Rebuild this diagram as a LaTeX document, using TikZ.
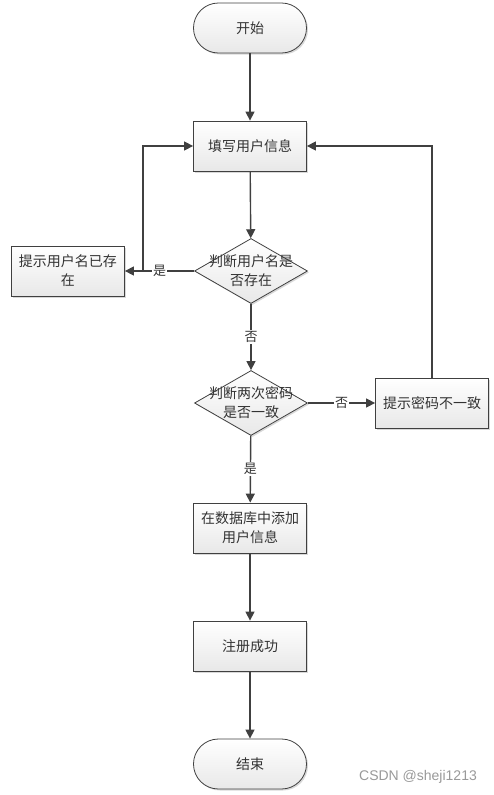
\documentclass[tikz,border=0pt]{standalone}
\usepackage{fontspec}
\newfontfamily\cjk{Noto Sans CJK SC}
\newfontfamily\wmark{Liberation Sans}
\usetikzlibrary{shapes.geometric,arrows.meta,shadows}

\definecolor{linegray}{HTML}{404040}
\definecolor{boxfill}{HTML}{E8E8E8}
\definecolor{txtgray}{HTML}{333333}

\tikzset{
  base/.style={draw=linegray, line width=0.8pt, top color=white, bottom color=boxfill,
    drop shadow={shadow xshift=1.5pt, shadow yshift=-1.5pt, fill=black!30, opacity=0.5},
    font=\cjk\fontsize{14}{19}\selectfont, text=txtgray, align=center},
  process/.style={base, rectangle, minimum width=113pt, minimum height=50pt, inner sep=2pt},
  terminal/.style={base, rectangle, rounded corners=24.9pt, minimum width=113pt, minimum height=50pt},
  decision/.style={base, diamond, minimum width=113pt, minimum height=65pt, inner sep=0pt},
  dtext/.style={font=\cjk\fontsize{14}{19}\selectfont, text=txtgray, align=center},
  flow/.style={draw=linegray, line width=1.4pt, -{Triangle[length=9pt,width=9pt]}},
  branch/.style={fill=white, inner sep=1pt, font=\cjk\fontsize{13}{15}\selectfont, text=txtgray},
  wm/.style={font=\wmark\fontsize{14}{16}\selectfont, text=black!40}
}

\begin{document}
\begin{tikzpicture}[x=1pt, y=-1pt]
\useasboundingbox (0,0) rectangle (494,795);

% main column
\node[terminal] (start) at (250,28) {开始};
\node[process] (fillinfo) at (250,146) {填写用户信息};
\node[decision, label={[dtext]center:判断用户名是\\否存在}] (chkname) at (251,271) {};
\node[decision, label={[dtext]center:判断两次密码\\是否一致}] (chkpwd) at (251,403) {};
\node[process] (addinfo) at (250,528) {在数据库中添加\\用户信息};
\node[process] (success) at (250,646) {注册成功};
\node[terminal] (stop) at (250,764) {结束};

% side boxes
\node[process] (nameexist) at (68,271) {提示用户名已存\\在};
\node[process] (pwdwrong) at (432,403) {提示密码不一致};

\coordinate (lloop) at (143,271);

\draw[flow] (start) -- (fillinfo);
\draw[flow] (fillinfo) -- (chkname);
\draw[flow] (chkname) -- node[branch] {是} (nameexist);
\draw[flow] (lloop) |- (fillinfo.west);
\draw[flow] (chkname) -- node[branch] {否} (chkpwd);
\draw[flow] (chkpwd) -- node[branch] {否} (pwdwrong);
\draw[flow] (pwdwrong) |- (fillinfo.east);
\draw[flow] (chkpwd) -- node[branch] {是} (addinfo);
\draw[flow] (addinfo) -- (success);
\draw[flow] (success) -- (stop);

\node[wm] (csdn) at (418,777) {CSDN @sheji1213};

\end{tikzpicture}
\end{document}
